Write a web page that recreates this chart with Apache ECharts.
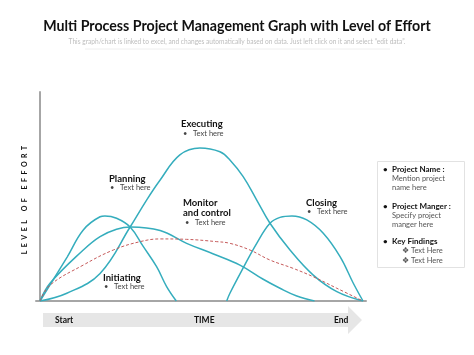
<!DOCTYPE html>
<html>
<head>
<meta charset="utf-8">
<script src="https://cdn.jsdelivr.net/npm/echarts@6/dist/echarts.min.js"></script>
<style>
  html, body { margin: 0; padding: 0; background: #fff; }
  #chart { width: 474px; height: 355px; }
</style>
</head>
<body>
<div id="chart"></div>
<script>
// phase curves, x = time (0 = start, 100 = end), y = level of effort
const initiatingX = [0, 8.4, 13.4, 18.6, 20.1, 23.7, 27.9, 32, 36.1, 39.2, 42.2]
const initiatingY = [0, 21, 34, 40.3, 40.7, 39.6, 35.4, 26, 16.4, 6.9, 0]

const planningX = [0, 3.1, 13.4, 18.6, 23.7, 28, 37.2, 45.4, 53.7, 61.9, 69.1, 74.3, 79.5, 85]
const planningY = [0, 8.5, 24.4, 30.8, 34.3, 35.4, 33.7, 27.6, 22.5, 17.2, 10.4, 6.1, 2.4, 0]

const executingX = [0, 8.3, 18.6, 27.9, 33, 37.2, 43.3, 49.5, 55.7, 58.8, 62.9, 67.1, 71.2, 77.4, 84.6, 91.9, 100]
const executingY = [0, 3.7, 13.2, 35.4, 48.3, 57.9, 69.9, 73.2, 71.4, 67.5, 59.5, 48.3, 37.2, 24.4, 12.4, 4.5, 0]

const closingX = [57.8, 58.8, 62.9, 67.1, 71.2, 74.3, 78, 82.6, 87.7, 92.9, 97, 100]
const closingY = [0, 3.7, 15.8, 27.6, 37.2, 40, 40.7, 38.8, 32.4, 21.2, 8.5, 0]

const monitorX = [0, 3.1, 13.4, 22.7, 31, 37.2, 45.4, 54.7, 58.8, 65, 71.2, 78.4, 84.6, 91.9, 100]
const monitorY = [0, 7.6, 17.2, 24.4, 28.4, 29.7, 29.5, 28.4, 27.6, 24.4, 19.6, 15.6, 11.6, 6.1, 0]

const phaseLabels = ['Executing', 'Planning', 'Monitor\nand control', 'Initiating', 'Closing']
const timeLabels = ['Start', 'TIME', 'End']
const infoHeads = ['Project Name :', 'Project Manger :', 'Key Findings']
const infoTexts = ['Mention project\nname here', 'Specify project\nmanger here', '']
const findings = ['Text Here', 'Text Here']

const TEAL = '#35adbd'
const FONT = 'Lato'

const pairs = (xs, ys) => xs.map((x, i) => [x, ys[i]])

const tealLine = (name, xs, ys) => ({
  name, type: 'line', smooth: 0.4, symbol: 'none',
  lineStyle: { color: TEAL, width: 1.5 },
  data: pairs(xs, ys),
})

const chart = echarts.init(document.getElementById('chart'))

const txt = (left, top, text, opt = {}) => ({
  type: 'text', left, top,
  style: Object.assign({
    text, fontFamily: FONT, fontSize: 9.5, fontWeight: 'bold', fill: '#111', lineHeight: 10,
  }, opt),
})

const phasePos = [[181, 119], [109, 174], [183, 198], [103, 273], [306, 198]]
const bulletPos = [[183, 129], [110, 183], [185, 218], [104, 282], [307, 207]]

const graphics = []
phaseLabels.forEach((p, i) => {
  graphics.push(txt(phasePos[i][0], phasePos[i][1], p))
  graphics.push(txt(bulletPos[i][0], bulletPos[i][1], '\u2022   Text here',
    { fontWeight: 'normal', fontSize: 7.5, fill: '#444' }))
})

// time arrow
graphics.push({
  type: 'polygon',
  shape: { points: [[43, 313], [348, 313], [348, 306], [362, 320], [348, 334], [348, 327], [43, 327]] },
  style: { fill: '#e6e6e6' },
})
graphics.push(txt(55, 315, timeLabels[0], { fontSize: 8.5 }))
graphics.push(txt(194, 315, timeLabels[1], { fontSize: 8.5 }))
graphics.push(txt(334, 315, timeLabels[2], { fontSize: 8.5 }))

// y axis name, spread out letters
const yName = 'LEVEL OF EFFORT'.split(' ').map(w => w.split('').join('\u2002')).join('\u2003\u2002')
graphics.push({
  type: 'text', x: 25, y: 200, rotation: Math.PI / 2,
  style: {
    text: yName, fontFamily: FONT, fontSize: 7, fontWeight: 'bold',
    fill: '#111', align: 'center', verticalAlign: 'middle',
  },
})

// info box
graphics.push({
  type: 'rect', shape: { x: 377.5, y: 161.5, width: 87, height: 106 },
  style: { fill: '#fff', stroke: '#e2e2e2', lineWidth: 1 },
})
const headTops = [164, 201, 236]
infoHeads.forEach((h, i) => {
  graphics.push(txt(383, headTops[i], '\u2022', { fontSize: 8 }))
  graphics.push(txt(392, headTops[i], h, { fontSize: 8 }))
  if (infoTexts[i]) {
    graphics.push(txt(392, headTops[i] + 10, infoTexts[i],
      { fontWeight: 'normal', fontSize: 7.5, fill: '#555', lineHeight: 9 }))
  }
})
findings.forEach((f, i) => {
  graphics.push(txt(402, 246 + i * 10, '\u2756 ' + f,
    { fontWeight: 'normal', fontSize: 7.5, fill: '#555' }))
})

// faint line under subtitle
graphics.push({
  type: 'line', shape: { x1: 85, y1: 49, x2: 390, y2: 49 },
  style: { stroke: '#eeeeee', lineWidth: 1 },
})

chart.setOption({
  animation: false,
  title: {
    text: 'Multi Process Project Management Graph with Level of Effort',
    subtext: 'This graph/chart is linked to excel, and changes automatically based on data. Just left click on it and select \u201cedit data\u201d.',
    left: 'center', top: 14, itemGap: 5,
    textStyle: { fontFamily: FONT, fontSize: 14.2, fontWeight: 'bold', color: '#111' },
    subtextStyle: { fontFamily: FONT, fontSize: 6.6, color: '#bdbdbd' },
  },
  grid: { left: 36, right: 108, top: 92, bottom: 54 },
  xAxis: {
    type: 'value', min: -1.24, max: 100.93,
    axisLine: { show: true, lineStyle: { color: '#a6a6a6', width: 2 } },
    axisTick: { show: false }, axisLabel: { show: false }, splitLine: { show: false },
  },
  yAxis: {
    type: 'value', min: 0, max: 100,
    axisLine: { show: true, lineStyle: { color: '#a6a6a6', width: 2 } },
    axisTick: { show: false }, axisLabel: { show: false }, splitLine: { show: false },
  },
  series: [
    tealLine('Initiating', initiatingX, initiatingY),
    tealLine('Planning', planningX, planningY),
    tealLine('Executing', executingX, executingY),
    tealLine('Closing', closingX, closingY),
    {
      name: 'Monitor and control', type: 'line', smooth: 0.4, symbol: 'none',
      lineStyle: { color: '#c55a5a', width: 1, type: [3, 2] },
      data: pairs(monitorX, monitorY),
    },
  ],
  graphic: graphics,
})
</script>
</body>
</html>
